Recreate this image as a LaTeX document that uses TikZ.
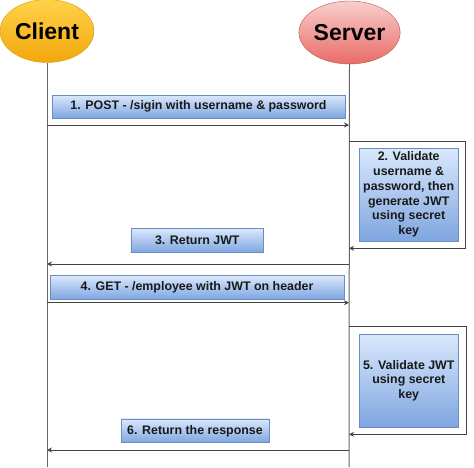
\documentclass[tikz,border=0pt]{standalone}
\usepackage{fontspec}
\setmainfont{Liberation Sans}
\usetikzlibrary{shapes.geometric,arrows.meta}

\definecolor{clienttop}{HTML}{FFD24A}
\definecolor{clientbot}{HTML}{F2A70C}
\definecolor{clientln}{HTML}{D79B00}
\definecolor{servertop}{HTML}{F8CECC}
\definecolor{serverbot}{HTML}{EA6B66}
\definecolor{serverln}{HTML}{B85450}
\definecolor{boxtop}{HTML}{DAE8FC}
\definecolor{boxbot}{HTML}{7EA6E0}
\definecolor{boxln}{HTML}{6C8EBF}
\definecolor{wire}{HTML}{444444}

\begin{document}
\begin{tikzpicture}[x=1pt,y=-1pt]

\tikzstyle{myactor}=[
  ellipse,
  minimum width=94pt,
  minimum height=63pt,
  inner sep=0pt,
  font=\fontsize{23}{26}\selectfont\bfseries]

\tikzstyle{myclient}=[myactor, draw=clientln, top color=clienttop, bottom color=clientbot]

\tikzstyle{myserver}=[myactor, draw=serverln, top color=servertop, bottom color=serverbot]

\tikzstyle{mystep}=[
  rectangle,
  draw=boxln,
  top color=boxtop,
  bottom color=boxbot,
  inner sep=0pt,
  align=center,
  text=black!90,
  font=\fontsize{12.4}{14.8}\selectfont\bfseries]

\tikzstyle{mylife}=[line width=1pt, black!60]

\tikzstyle{mymsg}=[line width=1pt, wire, -{Stealth[length=5pt,width=5pt]}]

\useasboundingbox (0,0) rectangle (474,467);

% define points
\path
  (47,31) coordinate(C)
  (349.5,32.5) coordinate(S)
  (47,467) coordinate(Cend)
  (349,467) coordinate(Send)
  (47,125) coordinate(C1) (349,125) coordinate(S1)
  (349,141) coordinate(L1a) (465.7,141) coordinate(L1b)
  (465.7,248.3) coordinate(L1c) (349,248.3) coordinate(L1d)
  (47,264) coordinate(C3) (349,264) coordinate(S3)
  (47,302.7) coordinate(C4) (349,302.7) coordinate(S4)
  (349,326) coordinate(L2a) (466.7,326) coordinate(L2b)
  (466.7,434.3) coordinate(L2c) (349,434.3) coordinate(L2d)
  (47,450) coordinate(C6) (349,450) coordinate(S6)
  ;

\node[myclient] (Client) at (C) {Client};
\node[myserver] (Server) at (S) {Server};

\node[mystep, minimum width=293pt, minimum height=23pt] (M1) at (198.5,106.5)
  {1. POST - /sigin with username \& password};
\node[mystep, minimum width=98.7pt, minimum height=92.4pt] (M2) at (408.7,194.5)
  {2. Validate\\username \&\\password, then\\generate JWT\\using secret\\key};
\node[mystep, minimum width=132.7pt, minimum height=24pt] (M3) at (197.3,240.3)
  {3. Return JWT};
\node[mystep, minimum width=294pt, minimum height=23.3pt] (M4) at (197,287.3)
  {4. GET - /employee with JWT on header};
\node[mystep, minimum width=99pt, minimum height=93.3pt] (M5) at (408.8,380.7)
  {5. Validate JWT\\using secret\\key};
\node[mystep, minimum width=148pt, minimum height=23.7pt] (M6) at (195,430.8)
  {6. Return the response};

% draw lines
\draw[mylife] (Client.south) -- (Cend);
\draw[mylife] (Server.south) -- (Send);

\draw[mymsg] (C1) -- (S1);
\draw[mymsg] (L1a) -- (L1b) -- (L1c) -- (L1d);
\draw[mymsg] (S3) -- (C3);
\draw[mymsg] (C4) -- (S4);
\draw[mymsg] (L2a) -- (L2b) -- (L2c) -- (L2d);
\draw[mymsg] (S6) -- (C6);

\end{tikzpicture}
\end{document}
